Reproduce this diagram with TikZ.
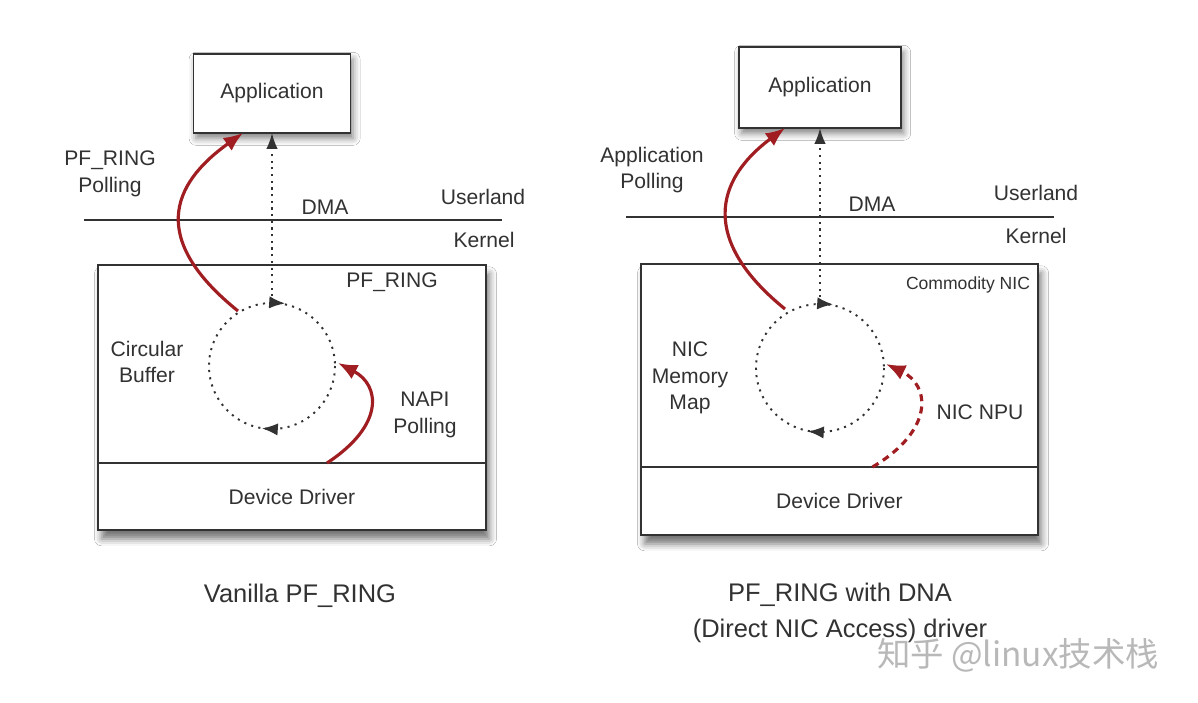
\documentclass[tikz,border=0pt]{standalone}
\usepackage{fontspec}
\setmainfont{Liberation Sans}
\newfontfamily\cjkfont{Noto Sans CJK SC}
\usetikzlibrary{arrows.meta, positioning, calc, shadows.blur}
\definecolor{pollred}{RGB}{160,30,34}
\definecolor{txtgray}{RGB}{50,50,50}

\begin{document}
\begin{tikzpicture}[
  x=0.02cm, y=-0.02cm,
  >=Latex,
  appbox/.style={rectangle, draw=txtgray, line width=1.1pt, fill=white, outer sep=0pt, text=txtgray, font=\fontsize{12}{15}\selectfont, blur shadow={shadow xshift=1.5pt, shadow yshift=-3pt, shadow blur radius=4pt, shadow opacity=50}},
  frame/.style={rectangle, draw=none, fill=white, outer sep=0pt, blur shadow={shadow xshift=2pt, shadow yshift=-5pt, shadow blur radius=4pt, shadow opacity=55}},
  kbox/.style={rectangle, draw=txtgray, line width=1.1pt, fill=white, outer sep=0pt, text=txtgray, font=\fontsize{12}{15}\selectfont},
  lbl/.style={text=txtgray, align=center, inner sep=0pt, font=\fontsize{12}{15}\selectfont},
  small/.style={text=txtgray, align=center, inner sep=0pt, font=\fontsize{10}{12}\selectfont},
  title/.style={text=txtgray, align=center, inner sep=0pt, font=\fontsize{14.5}{20.5}\selectfont},
  sep/.style={draw=txtgray, line width=0.9pt},
  dma/.style={draw=txtgray, line width=1.1pt, dash pattern=on 1.2pt off 2.6pt, -{Latex[length=9pt, width=6.5pt]}},
  ring/.style={draw=txtgray, line width=1.1pt, dash pattern=on 1.2pt off 3pt},
  ringtip/.style={draw=txtgray, line width=1pt, -{Latex[length=9pt, width=7pt]}},
  poll/.style={draw=pollred, line width=1.8pt, -{Latex[length=11pt, width=9pt]}},
  npu/.style={draw=pollred, line width=1.8pt, dash pattern=on 4pt off 3pt, -{Latex[length=11pt, width=9pt]}},
  wm/.style={text=black!28, inner sep=0pt, font=\cjkfont\fontsize{19}{19}\selectfont}
]

\fill[white] (0,0) rectangle (1198,703);
\useasboundingbox (0,0) rectangle (1198,703);

% Left: vanilla PF_RING
\node[appbox, minimum width=3.14cm, minimum height=1.58cm] (app1) at (272,93.5) {Application};
\node[frame, minimum width=7.76cm, minimum height=5.3cm] (frame1) at (292,397.5) {};
\node[kbox, minimum width=7.76cm, minimum height=3.96cm, anchor=north] (pfring1) at (frame1.north) {};
\node[kbox, minimum width=7.76cm, minimum height=1.34cm, below=0pt of pfring1] (drv1) {Device Driver};

\coordinate (sepL1) at (84,220);
\coordinate (sepR1) at (502,220);
\draw[sep] (sepL1) -- (sepR1);

\node[lbl] (user1) at (483,197) {Userland};
\node[lbl] (kern1) at (484,240) {Kernel};
\node[lbl] (dma1) at (325,207) {DMA};
\node[lbl] (pfr1) at (392,282) {PF\_RING};
\node[lbl] (pollt1) at (110,174) {PF\_RING\\Polling};
\node[lbl] (buf1) at (147,362) {Circular\\Buffer};
\node[lbl] (napi1) at (425,415) {NAPI\\Polling};

% ring buffer
\draw[ring] (272,366) circle[radius=63];
\draw[ringtip] (282,303.2) -- (285,303.4);
\draw[ringtip] (265,428.6) -- (262,428.4);
\coordinate (top1) at (272,303);
\coordinate (out1) at (238,311);
\coordinate (in1) at (338,363);
\coordinate (feed1) at ($(drv1.north)+(35,0)$);

\draw[dma] (top1) -- (app1.south);
\draw[poll] (out1) .. controls (150,240) and (170,185) .. ($(app1.south)+(-29,0)$);
\draw[poll] (feed1) .. controls (385,425) and (380,385) .. (in1);

\node[title] (cap1) at (300,596) {Vanilla PF\_RING};

% Right: PF_RING with DNA
\node[appbox, minimum width=3.24cm, minimum height=1.62cm] (app2) at (820,87.5) {Application};
\node[frame, minimum width=7.94cm, minimum height=5.42cm] (frame2) at (839.5,399.5) {};
\node[kbox, minimum width=7.94cm, minimum height=4.06cm, anchor=north] (nic2) at (frame2.north) {};
\node[kbox, minimum width=7.94cm, minimum height=1.36cm, below=0pt of nic2] (drv2) {Device Driver};

\coordinate (sepL2) at (626,217);
\coordinate (sepR2) at (1054,217);
\draw[sep] (sepL2) -- (sepR2);

\node[lbl] (user2) at (1036,193) {Userland};
\node[lbl] (kern2) at (1036,236) {Kernel};
\node[lbl] (dma2) at (872,204) {DMA};
\node[small] (cnic2) at (968,285) {Commodity NIC};
\node[lbl] (pollt2) at (652,170) {Application\\Polling};
\node[lbl] (map2) at (690,378) {NIC\\Memory\\Map};
\node[lbl] (npu2) at (980,412) {NIC NPU};

% ring buffer
\draw[ring] (820,368) circle[radius=64];
\draw[ringtip] (830,304.2) -- (833,304.4);
\draw[ringtip] (811,431.6) -- (808,431.4);
\coordinate (top2) at (820,304);
\coordinate (out2) at (785,309);
\coordinate (in2) at (886,364);
\coordinate (feed2) at ($(drv2.north)+(33,0)$);

\draw[dma] (top2) -- (app2.south);
\draw[poll] (out2) .. controls (700,240) and (715,180) .. ($(app2.south)+(-35,0)$);
\draw[npu] (feed2) .. controls (935,430) and (930,385) .. (in2);

\node[title] (cap2) at (840,613) {PF\_RING with DNA\\(Direct NIC Access) driver};

\node[wm] (wmark) at (1018,655) {知乎 @linux技术栈};

\end{tikzpicture}
\end{document}
